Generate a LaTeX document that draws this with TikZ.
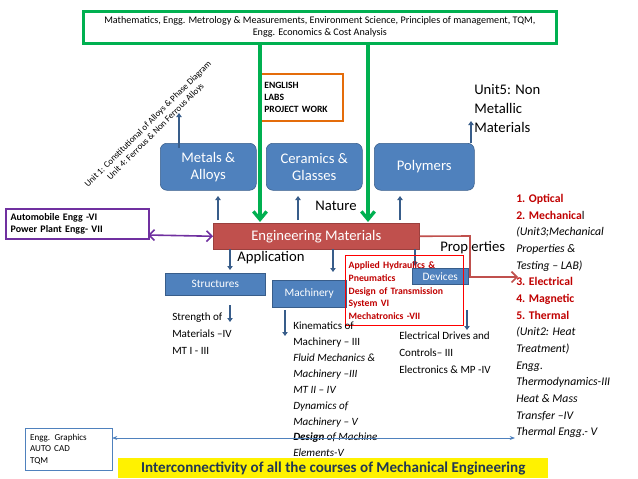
\documentclass[tikz,border=0pt]{standalone}
\usepackage{fontspec}
\setmainfont{Carlito}
\usetikzlibrary{arrows.meta}
\definecolor{bl}{HTML}{4F81BD}
\definecolor{dbl}{HTML}{385D8A}
\definecolor{rd}{HTML}{C0504D}
\definecolor{gr}{HTML}{00B050}
\definecolor{org}{HTML}{E46C0A}
\definecolor{pur}{HTML}{7030A0}
\definecolor{txr}{HTML}{C00000}
\begin{document}
\begin{tikzpicture}[x=0.75pt,y=-0.75pt,
 mat/.style={draw=dbl,fill=bl,rounded corners=5pt,text=white,align=center,font=\fontsize{11}{13}\selectfont,inner sep=0pt},
 app/.style={draw=dbl,fill=bl,text=white,font=\fontsize{8.5}{10}\selectfont,inner sep=0pt},
 up/.style={-{Triangle[length=3pt,width=4pt]},dbl,line width=1.6pt},
 garr/.style={-{Straight Barb[length=6pt,width=10pt]},gr,line width=2.5pt},
 txt/.style={anchor=north west,align=left,inner sep=0pt,font=\fontsize{8.3}{12.4}\selectfont}]
\useasboundingbox (0,0) rectangle (638,478);
% top box
\node[draw=gr,line width=2pt,minimum width=473*0.75pt,minimum height=32*0.75pt,anchor=north west,font=\fontsize{7.6}{9}\selectfont,align=center,inner sep=1pt] (top) at (82,10) {Mathematics, Engg. Metrology \& Measurements, Environment Science, Principles of management, TQM,\\ Engg. Economics \& Cost Analysis};
\node[draw=org,line width=1.5pt,minimum width=84*0.75pt,minimum height=47*0.75pt,anchor=north west,align=left,font=\bfseries\fontsize{7.2}{8.8}\selectfont,inner sep=3pt,text width=55pt] (eng) at (258,73) {ENGLISH\\LABS\\PROJECT WORK};
\node[rotate=45,font=\fontsize{6.7}{8}\selectfont,align=center,inner sep=0pt] (units) at (152,128) {Unit 1: Constitutional of Alloys \& Phase Diagram\\Unit 4: Ferrous \& Non Ferrous Alloys};
% materials
\node[mat,minimum width=96*0.75pt,minimum height=47*0.75pt,anchor=north west] (met) at (160,143) {Metals \&\\Alloys};
\node[mat,minimum width=96*0.75pt,minimum height=47*0.75pt,anchor=north west] (cer) at (266,143) {Ceramics \&\\Glasses};
\node[mat,minimum width=100*0.75pt,minimum height=47*0.75pt,anchor=north west] (pol) at (374,143) {Polymers};
\node[txt,font=\fontsize{11}{14.2}\selectfont] (u5) at (474,84) {Unit5: Non\\Metallic\\Materials};
\node[draw=rd!80!black,fill=rd,minimum width=206*0.75pt,minimum height=26*0.75pt,anchor=north west,text=white,font=\fontsize{11}{13}\selectfont,inner sep=0pt] (em) at (213,223) {Engineering Materials};
\node[font=\fontsize{11}{13}\selectfont,inner sep=0pt] (nat) at (336,206) {Nature};
\node[font=\fontsize{11}{13}\selectfont,inner sep=0pt] (apl) at (271,258) {Application};
\node[font=\fontsize{11}{13}\selectfont,inner sep=0pt,anchor=west] (prp) at (440,248) {Prop erties};
% arrows up
\coordinate (m1) at (179,113); \draw[up] (179,148) -- (m1);
\coordinate (p1) at (471,121); \draw[up] (471,143) -- (p1);
\draw[up] (218,220) -- (218,196);
\draw[up] (298,220) -- (298,196);
\draw[up] (400,220) -- (400,196);
% green
\draw[garr] (260,42) -- (260,222);
\draw[garr] (368,42) -- (368,222);
% automobile
\node[draw=pur,line width=1.2pt,anchor=north west,minimum width=143*0.75pt,minimum height=30*0.75pt,align=left,font=\bfseries\fontsize{7.5}{9.5}\selectfont,inner sep=3pt,text width=100pt] (auto) at (5,208) {Automobile Engg -VI\\Power Plant Engg- VII};
\draw[{Straight Barb[length=4pt,width=8pt]}-{Straight Barb[length=4pt,width=8pt]},pur,line width=1.2pt] (148,235) -- (em.west);
% apps
\node[app,minimum width=100*0.75pt,minimum height=22*0.75pt,anchor=north west] (str) at (165,273) {Structures};
\node[app,minimum width=74*0.75pt,minimum height=27*0.75pt,anchor=north west] (mac) at (272,280) {Machinery};
\node[app,minimum width=56*0.75pt,minimum height=16*0.75pt,anchor=north west] (dev) at (412,268) {Devices};
\draw[up] (230,249) -- (230,270);
\draw[up] (333,249) -- (333,272);
\draw[up] (415,249) -- (415,266);
\node[draw=red,line width=1pt,anchor=north west,minimum width=118*0.75pt,minimum height=70*0.75pt,align=left,text=txr,font=\bfseries\fontsize{7.3}{9.6}\selectfont,inner sep=2pt,text width=84pt] (hyd) at (345,255) {Applied Hydraulics \&\\Pneumatics\\Design of Transmission\\System VI\\Mechatronics -VII};
% properties red arrow
\coordinate (pe) at (518,277);
\draw[rd,line width=1.2pt,-{Straight Barb[length=4pt,width=8pt]}] (em.east) -- (470,236) -- (470,277) -- (pe);
% lower arrows
\draw[up] (230,305) -- (230,322);
\draw[up] (285,310) -- (285,336);
\draw[up] (467,310) -- (467,330);
\node[txt] (sm) at (172,313) {Strength of\\Materials –IV\\MT I - III};
\node[txt,font=\fontsize{8.3}{11.9}\selectfont] (kin) at (293,322) {Kinematics of\\Machinery – III\\\textit{Fluid Mechanics \&}\\\textit{Machinery –III}\\\textit{MT II – IV}\\\textit{Dynamics of}\\\textit{Machinery – V}\\\textbf{\textit{Design}} \textit{of Machine}\\\textit{Elements-V}};
\node[txt] (ele) at (399,332) {Electrical Drives and\\Controls– III\\Electronics \& MP -IV};
% right list
\node[txt,font=\fontsize{8.8}{12.5}\selectfont] (lst) at (516,194) {\textcolor{txr}{\textbf{1. Optical}}\\\textcolor{txr}{\textbf{2. Mechanica}}l\\\textit{(Unit3;Mechanical}\\\textit{Properties \&}\\\textit{Testing – LAB)}\\\textcolor{txr}{\textbf{3. Electrical}}\\\textcolor{txr}{\textbf{4. Magnetic}}\\\textcolor{txr}{\textbf{5. Thermal}}\\\textit{(Unit2: Heat}\\\textit{Treatment)}\\\textit{Engg.}\\\textit{Thermodynamics-III}\\\textit{Heat \& Mass}\\\textit{Transfer –IV}\\\textit{Thermal Engg.- V}};
% bottom
\node[draw=bl,anchor=north west,minimum width=87*0.75pt,minimum height=42*0.75pt,align=left,font=\fontsize{6.8}{8.5}\selectfont,inner sep=3pt,text width=58pt] (gra) at (25,428) {Engg. Graphics\\AUTO CAD\\TQM};
\coordinate (ge) at (515,438);
\draw[{Stealth[length=4pt]}-{Stealth[length=4pt]},bl,line width=0.6pt] (112,438) -- (ge);
\node[fill=yellow,anchor=north west,minimum width=430*0.75pt,minimum height=20*0.75pt,font=\bfseries\fontsize{11.3}{12}\selectfont,inner sep=0pt,text=dbl!60!black] (bot) at (118,458) {Interconnectivity of all the courses of Mechanical Engineering};
\end{tikzpicture}
\end{document}
